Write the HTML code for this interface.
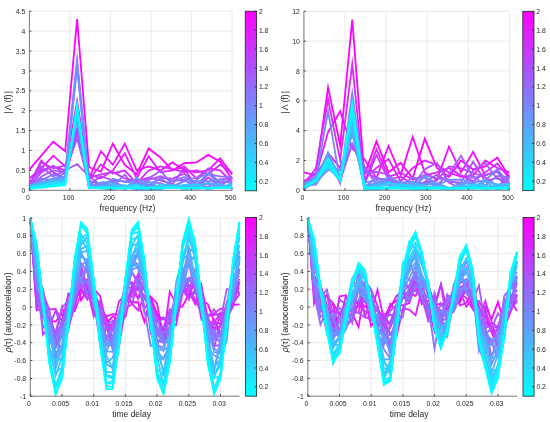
<!DOCTYPE html>
<html><head><meta charset="utf-8"><style>
html,body{margin:0;padding:0;background:#fff;}
svg{display:block;}
polyline{fill:none;stroke-width:1.8;stroke-linejoin:miter;stroke-miterlimit:10;}
.tk{font-family:"Liberation Sans", Helvetica, Arial, sans-serif;font-size:7.90px;fill:#262626;}
.lb{font-family:"Liberation Sans", Helvetica, Arial, sans-serif;font-size:8.50px;fill:#262626;}
.yl{font-family:"Liberation Sans", Helvetica, Arial, sans-serif;font-size:8.7px;fill:#262626;}
</style></head><body>
<svg width="550" height="422" viewBox="0 0 550 422">
<rect width="550" height="422" fill="#fff"/>
<path d="M29.40 190.30V11.20M69.94 190.30V11.20M110.48 190.30V11.20M151.02 190.30V11.20M191.56 190.30V11.20M232.10 190.30V11.20M29.40 190.30H232.10M29.40 170.40H232.10M29.40 150.50H232.10M29.40 130.60H232.10M29.40 110.70H232.10M29.40 90.80H232.10M29.40 70.90H232.10M29.40 51.00H232.10M29.40 31.10H232.10M29.40 11.20H232.10" stroke="#e4e4e4" stroke-width="0.8" fill="none"/>
<polyline points="29.40,169.60 41.32,155.67 53.25,141.74 65.17,151.30 77.09,19.16 89.02,167.22 100.94,171.59 112.86,143.73 124.79,164.83 136.71,174.38 148.64,148.51 160.56,157.66 172.48,170.40 184.41,163.24 196.33,162.44 208.25,154.88 220.18,161.64 232.10,179.16" stroke="#ff00ff"/>
<polyline points="29.40,178.36 41.32,168.41 53.25,155.67 65.17,166.42 77.09,132.59 89.02,178.36 100.94,151.30 112.86,164.83 124.79,143.73 136.71,170.40 148.64,166.42 160.56,170.40 172.48,162.44 184.41,170.40 196.33,172.39 208.25,170.40 220.18,158.46 232.10,174.38" stroke="#f20dff"/>
<polyline points="29.40,182.34 41.32,170.40 53.25,166.42 65.17,170.40 77.09,101.15 89.02,174.38 100.94,178.36 112.86,170.40 124.79,153.29 136.71,178.36 148.64,156.47 160.56,172.39 172.48,170.40 184.41,166.42 196.33,178.36 208.25,168.41 220.18,170.40 232.10,182.34" stroke="#e41bff"/>
<polyline points="29.40,184.33 41.32,160.45 53.25,172.39 65.17,178.36 77.09,130.60 89.02,179.58 100.94,164.53 112.86,173.41 124.79,170.55 136.71,183.29 148.64,170.51 160.56,166.44 172.48,169.05 184.41,172.06 196.33,170.43 208.25,173.75 220.18,164.76 232.10,173.08" stroke="#d728ff"/>
<polyline points="29.40,186.32 41.32,162.44 53.25,168.41 65.17,165.62 77.09,128.61 89.02,178.01 100.94,174.46 112.86,172.08 124.79,178.29 136.71,181.42 148.64,177.36 160.56,180.34 172.48,184.20 184.41,167.94 196.33,188.46 208.25,177.49 220.18,186.69 232.10,176.74" stroke="#c936ff"/>
<polyline points="29.40,187.12 41.32,172.39 53.25,165.62 65.17,174.38 77.09,134.58 89.02,184.67 100.94,176.18 112.86,180.45 124.79,188.16 136.71,183.76 148.64,185.54 160.56,177.76 172.48,178.57 184.41,173.51 196.33,184.05 208.25,187.16 220.18,179.36 232.10,178.13" stroke="#bc43ff"/>
<polyline points="29.40,186.32 41.32,166.42 53.25,176.37 65.17,170.40 77.09,164.03 89.02,176.38 100.94,185.39 112.86,180.68 124.79,181.51 136.71,180.01 148.64,179.92 160.56,176.18 172.48,180.87 184.41,179.74 196.33,188.17 208.25,174.04 220.18,182.12 232.10,181.88" stroke="#ae51ff"/>
<polyline points="29.40,188.31 41.32,176.37 53.25,170.40 65.17,172.39 77.09,138.16 89.02,184.13 100.94,187.07 112.86,186.23 124.79,174.55 136.71,190.15 148.64,178.57 160.56,170.77 172.48,185.15 184.41,186.73 196.33,180.40 208.25,168.86 220.18,185.18 232.10,178.42" stroke="#a15eff"/>
<polyline points="29.40,185.52 41.32,178.36 53.25,180.35 65.17,172.39 77.09,60.15 89.02,180.71 100.94,184.50 112.86,181.34 124.79,187.40 136.71,182.44 148.64,182.31 160.56,183.14 172.48,188.12 184.41,179.83 196.33,177.85 208.25,174.23 220.18,176.38 232.10,177.30" stroke="#946bff"/>
<polyline points="29.40,188.31 41.32,180.35 53.25,174.38 65.17,178.36 77.09,64.93 89.02,184.82 100.94,184.39 112.86,185.24 124.79,186.91 136.71,182.09 148.64,184.39 160.56,188.48 172.48,180.56 184.41,177.09 196.33,183.30 208.25,184.35 220.18,187.84 232.10,187.46" stroke="#8679ff"/>
<polyline points="29.40,187.12 41.32,182.34 53.25,178.36 65.17,176.37 77.09,62.94 89.02,183.07 100.94,187.18 112.86,178.64 124.79,181.83 136.71,183.34 148.64,186.57 160.56,178.28 172.48,186.14 184.41,181.36 196.33,181.16 208.25,181.48 220.18,179.43 232.10,183.84" stroke="#7986ff"/>
<polyline points="29.40,188.31 41.32,184.33 53.25,180.35 65.17,178.36 77.09,66.92 89.02,186.78 100.94,182.50 112.86,181.97 124.79,189.53 136.71,177.75 148.64,186.85 160.56,186.51 172.48,187.29 184.41,188.01 196.33,185.02 208.25,173.13 220.18,186.12 232.10,186.44" stroke="#6b94ff"/>
<polyline points="29.40,185.36 41.32,182.50 53.25,179.63 65.17,178.44 77.09,120.65 89.02,188.11 100.94,185.80 112.86,183.60 124.79,186.31 136.71,189.44 148.64,181.65 160.56,188.35 172.48,186.07 184.41,187.32 196.33,186.31 208.25,183.31 220.18,183.97 232.10,188.33" stroke="#5ea1ff"/>
<polyline points="29.40,185.84 41.32,183.22 53.25,180.59 65.17,179.39 77.09,118.66 89.02,188.09 100.94,187.21 112.86,185.55 124.79,185.24 136.71,189.51 148.64,189.57 160.56,188.30 172.48,186.97 184.41,185.47 196.33,185.46 208.25,182.99 220.18,186.79 232.10,184.50" stroke="#51aeff"/>
<polyline points="29.40,186.32 41.32,183.93 53.25,181.54 65.17,180.35 77.09,114.68 89.02,187.96 100.94,188.09 112.86,189.02 124.79,186.61 136.71,189.13 148.64,189.55 160.56,189.72 172.48,184.82 184.41,187.05 196.33,188.53 208.25,187.64 220.18,187.65 232.10,183.89" stroke="#43bcff"/>
<polyline points="29.40,186.80 41.32,184.65 53.25,182.50 65.17,181.31 77.09,112.69 89.02,188.02 100.94,187.26 112.86,186.08 124.79,186.84 136.71,188.63 148.64,188.49 160.56,184.49 172.48,186.60 184.41,184.82 196.33,184.27 208.25,189.26 220.18,187.15 232.10,187.07" stroke="#36c9ff"/>
<polyline points="29.40,187.28 41.32,185.36 53.25,183.45 65.17,182.26 77.09,110.70 89.02,187.28 100.94,188.23 112.86,189.34 124.79,186.25 136.71,184.77 148.64,188.18 160.56,188.42 172.48,186.96 184.41,188.91 196.33,188.07 208.25,188.15 220.18,187.61 232.10,186.35" stroke="#28d7ff"/>
<polyline points="29.40,187.75 41.32,186.08 53.25,184.41 65.17,183.22 77.09,108.71 89.02,187.20 100.94,187.49 112.86,187.97 124.79,188.70 136.71,186.92 148.64,188.79 160.56,187.45 172.48,186.88 184.41,189.17 196.33,188.14 208.25,188.61 220.18,187.69 232.10,186.60" stroke="#1be4ff"/>
<polyline points="29.40,188.23 41.32,186.80 53.25,185.36 65.17,184.17 77.09,106.72 89.02,187.80 100.94,187.44 112.86,188.43 124.79,188.19 136.71,188.27 148.64,188.65 160.56,187.83 172.48,187.67 184.41,188.23 196.33,187.31 208.25,187.55 220.18,187.60 232.10,187.73" stroke="#0df2ff"/>
<polyline points="29.40,188.71 41.32,187.51 53.25,186.32 65.17,185.13 77.09,104.73 89.02,187.99 100.94,187.81 112.86,187.92 124.79,187.80 136.71,188.18 148.64,187.67 160.56,187.93 172.48,187.81 184.41,187.93 196.33,187.97 208.25,187.84 220.18,187.79 232.10,187.94" stroke="#00ffff"/>
<path d="M29.40 11.20V190.30H232.10" stroke="#707070" stroke-width="0.9" fill="none"/>
<path d="M29.40 190.30v-2M69.94 190.30v-2M110.48 190.30v-2M151.02 190.30v-2M191.56 190.30v-2M232.10 190.30v-2M29.40 190.30h2M29.40 170.40h2M29.40 150.50h2M29.40 130.60h2M29.40 110.70h2M29.40 90.80h2M29.40 70.90h2M29.40 51.00h2M29.40 31.10h2M29.40 11.20h2" stroke="#262626" stroke-width="0.8" fill="none"/>
<text transform="translate(28.00 200.40) scale(0.87 1)" text-anchor="middle" class="tk">0</text>
<text transform="translate(68.54 200.40) scale(0.87 1)" text-anchor="middle" class="tk">100</text>
<text transform="translate(109.08 200.40) scale(0.87 1)" text-anchor="middle" class="tk">200</text>
<text transform="translate(149.62 200.40) scale(0.87 1)" text-anchor="middle" class="tk">300</text>
<text transform="translate(190.16 200.40) scale(0.87 1)" text-anchor="middle" class="tk">400</text>
<text transform="translate(230.70 200.40) scale(0.87 1)" text-anchor="middle" class="tk">500</text>
<text transform="translate(25.30 192.90) scale(0.87 1)" text-anchor="end" class="tk">0</text>
<text transform="translate(25.30 173.00) scale(0.87 1)" text-anchor="end" class="tk">0.5</text>
<text transform="translate(25.30 153.10) scale(0.87 1)" text-anchor="end" class="tk">1</text>
<text transform="translate(25.30 133.20) scale(0.87 1)" text-anchor="end" class="tk">1.5</text>
<text transform="translate(25.30 113.30) scale(0.87 1)" text-anchor="end" class="tk">2</text>
<text transform="translate(25.30 93.40) scale(0.87 1)" text-anchor="end" class="tk">2.5</text>
<text transform="translate(25.30 73.50) scale(0.87 1)" text-anchor="end" class="tk">3</text>
<text transform="translate(25.30 53.60) scale(0.87 1)" text-anchor="end" class="tk">3.5</text>
<text transform="translate(25.30 33.70) scale(0.87 1)" text-anchor="end" class="tk">4</text>
<text transform="translate(25.30 13.80) scale(0.87 1)" text-anchor="end" class="tk">4.5</text>
<text x="127.45" y="210.80" text-anchor="middle" class="lb">frequency (Hz)</text>
<text transform="translate(11.00 102.20) rotate(-90)" text-anchor="middle" class="yl">|<tspan dx="1">&#923;</tspan> (f)<tspan dx="1.2">|</tspan></text>
<defs><linearGradient id="g41" x1="0" y1="1" x2="0" y2="0"><stop offset="0" stop-color="#00ffff"/><stop offset="1" stop-color="#ff00ff"/></linearGradient></defs>
<rect x="245.20" y="11.20" width="11.40" height="179.60" fill="url(#g41)" stroke="#262626" stroke-width="0.8"/>
<text transform="translate(258.90 183.95) scale(0.87 1)" class="tk">0.2</text>
<text transform="translate(258.90 165.04) scale(0.87 1)" class="tk">0.4</text>
<text transform="translate(258.90 146.14) scale(0.87 1)" class="tk">0.6</text>
<text transform="translate(258.90 127.23) scale(0.87 1)" class="tk">0.8</text>
<text transform="translate(258.90 108.33) scale(0.87 1)" class="tk">1</text>
<text transform="translate(258.90 89.42) scale(0.87 1)" class="tk">1.2</text>
<text transform="translate(258.90 70.52) scale(0.87 1)" class="tk">1.4</text>
<text transform="translate(258.90 51.61) scale(0.87 1)" class="tk">1.6</text>
<text transform="translate(258.90 32.71) scale(0.87 1)" class="tk">1.8</text>
<text transform="translate(258.90 13.80) scale(0.87 1)" class="tk">2</text>
<path d="M256.60 181.35h-2M256.60 162.44h-2M256.60 143.54h-2M256.60 124.63h-2M256.60 105.73h-2M256.60 86.82h-2M256.60 67.92h-2M256.60 49.01h-2M256.60 30.11h-2M256.60 11.20h-2" stroke="#262626" stroke-width="0.8" fill="none"/>
<path d="M303.90 190.30V11.30M345.00 190.30V11.30M386.10 190.30V11.30M427.20 190.30V11.30M468.30 190.30V11.30M509.40 190.30V11.30M303.90 190.30H509.40M303.90 160.47H509.40M303.90 130.63H509.40M303.90 100.80H509.40M303.90 70.97H509.40M303.90 41.13H509.40M303.90 11.30H509.40" stroke="#e4e4e4" stroke-width="0.8" fill="none"/>
<polyline points="303.90,181.35 315.99,172.40 328.08,87.38 340.16,145.55 352.25,19.65 364.34,175.38 376.43,141.37 388.52,172.40 400.61,162.70 412.69,178.37 424.78,138.69 436.87,167.93 448.96,176.88 461.05,160.47 473.14,169.42 485.22,166.43 497.31,157.48 509.40,176.88" stroke="#ff00ff"/>
<polyline points="303.90,172.40 315.99,175.38 328.08,132.12 340.16,111.24 352.25,148.53 364.34,159.12 376.43,178.37 388.52,145.85 400.61,175.38 412.69,136.90 424.78,172.40 436.87,179.86 448.96,146.74 461.05,172.40 473.14,151.96 485.22,175.38 497.31,170.91 509.40,182.84" stroke="#f20dff"/>
<polyline points="303.90,185.83 315.99,178.37 328.08,153.01 340.16,167.93 352.25,130.63 364.34,178.37 376.43,167.93 388.52,159.12 400.61,181.35 412.69,167.93 424.78,160.47 436.87,164.94 448.96,172.40 461.05,176.88 473.14,175.38 485.22,160.47 497.31,167.93 509.40,172.40" stroke="#e41bff"/>
<polyline points="303.90,184.33 315.99,167.93 328.08,99.31 340.16,160.47 352.25,64.11 364.34,182.84 376.43,149.28 388.52,176.88 400.61,172.40 412.69,179.86 424.78,175.38 436.87,172.40 448.96,167.93 461.05,175.38 473.14,181.35 485.22,172.40 497.31,163.45 509.40,178.37" stroke="#d728ff"/>
<polyline points="303.90,182.02 315.99,177.82 328.08,158.87 340.16,183.07 352.25,128.70 364.34,184.64 376.43,155.09 388.52,179.57 400.61,176.64 412.69,183.58 424.78,182.70 436.87,180.72 448.96,166.44 461.05,168.48 473.14,173.00 485.22,177.22 497.31,186.58 509.40,176.47" stroke="#c936ff"/>
<polyline points="303.90,182.89 315.99,172.96 328.08,160.53 340.16,179.61 352.25,118.80 364.34,170.56 376.43,178.81 388.52,179.15 400.61,184.64 412.69,186.96 424.78,181.78 436.87,174.73 448.96,182.13 461.05,182.43 473.14,161.82 485.22,181.58 497.31,177.67 509.40,186.40" stroke="#bc43ff"/>
<polyline points="303.90,185.16 315.99,175.15 328.08,154.87 340.16,176.58 352.25,144.06 364.34,172.68 376.43,171.84 388.52,174.33 400.61,186.12 412.69,185.56 424.78,169.16 436.87,162.94 448.96,182.77 461.05,188.20 473.14,170.67 485.22,162.91 497.31,178.95 509.40,179.41" stroke="#ae51ff"/>
<polyline points="303.90,185.72 315.99,183.69 328.08,161.41 340.16,180.73 352.25,144.21 364.34,165.94 376.43,185.29 388.52,183.59 400.61,181.91 412.69,187.34 424.78,176.58 436.87,185.24 448.96,173.93 461.05,155.65 473.14,178.04 485.22,174.80 497.31,171.97 509.40,186.89" stroke="#a15eff"/>
<polyline points="303.90,187.08 315.99,177.24 328.08,167.03 340.16,177.42 352.25,125.23 364.34,187.50 376.43,177.25 388.52,181.87 400.61,185.04 412.69,183.31 424.78,174.78 436.87,178.38 448.96,179.61 461.05,184.93 473.14,176.34 485.22,185.58 497.31,176.03 509.40,177.08" stroke="#946bff"/>
<polyline points="303.90,186.34 315.99,181.53 328.08,170.07 340.16,170.38 352.25,129.16 364.34,186.49 376.43,183.15 388.52,180.08 400.61,185.49 412.69,177.92 424.78,177.85 436.87,188.40 448.96,188.83 461.05,184.50 473.14,189.09 485.22,180.48 497.31,169.10 509.40,184.76" stroke="#8679ff"/>
<polyline points="303.90,186.82 315.99,178.49 328.08,111.24 340.16,181.41 352.25,92.89 364.34,182.52 376.43,180.51 388.52,185.30 400.61,182.55 412.69,181.70 424.78,183.29 436.87,185.36 448.96,179.96 461.05,179.51 473.14,182.63 485.22,180.29 497.31,184.72 509.40,185.43" stroke="#7986ff"/>
<polyline points="303.90,185.76 315.99,184.62 328.08,166.61 340.16,179.18 352.25,133.32 364.34,186.02 376.43,183.18 388.52,177.44 400.61,182.01 412.69,188.50 424.78,176.44 436.87,183.83 448.96,189.32 461.05,182.74 473.14,183.36 485.22,187.65 497.31,186.91 509.40,182.89" stroke="#6b94ff"/>
<polyline points="303.90,189.24 315.99,175.33 328.08,162.30 340.16,178.37 352.25,132.12 364.34,186.95 376.43,185.43 388.52,189.17 400.61,184.34 412.69,187.52 424.78,184.57 436.87,183.08 448.96,187.79 461.05,187.59 473.14,187.72 485.22,181.25 497.31,189.39 509.40,186.32" stroke="#5ea1ff"/>
<polyline points="303.90,189.64 315.99,180.86 328.08,152.35 340.16,178.04 352.25,127.65 364.34,186.50 376.43,184.69 388.52,181.89 400.61,188.50 412.69,183.00 424.78,186.47 436.87,187.94 448.96,188.76 461.05,185.79 473.14,186.89 485.22,180.66 497.31,184.73 509.40,184.28" stroke="#51aeff"/>
<polyline points="303.90,183.49 315.99,179.32 328.08,167.66 340.16,180.43 352.25,123.18 364.34,189.28 376.43,184.84 388.52,185.50 400.61,188.30 412.69,185.44 424.78,185.94 436.87,187.64 448.96,188.43 461.05,188.49 473.14,185.78 485.22,187.17 497.31,184.69 509.40,184.05" stroke="#43bcff"/>
<polyline points="303.90,186.68 315.99,180.03 328.08,163.82 340.16,180.00 352.25,118.70 364.34,186.26 376.43,187.40 388.52,182.85 400.61,184.63 412.69,186.07 424.78,187.52 436.87,186.43 448.96,187.89 461.05,185.53 473.14,184.70 485.22,185.29 497.31,188.81 509.40,187.33" stroke="#36c9ff"/>
<polyline points="303.90,186.15 315.99,181.48 328.08,161.74 340.16,180.88 352.25,114.23 364.34,188.50 376.43,189.53 388.52,187.84 400.61,184.55 412.69,186.76 424.78,187.14 436.87,187.48 448.96,188.53 461.05,188.43 473.14,188.20 485.22,189.06 497.31,188.40 509.40,184.42" stroke="#28d7ff"/>
<polyline points="303.90,187.26 315.99,180.49 328.08,161.34 340.16,179.86 352.25,109.75 364.34,189.93 376.43,188.66 388.52,187.28 400.61,187.20 412.69,189.01 424.78,189.12 436.87,188.44 448.96,188.11 461.05,188.48 473.14,186.77 485.22,188.23 497.31,187.15 509.40,188.70" stroke="#1be4ff"/>
<polyline points="303.90,187.76 315.99,180.35 328.08,165.25 340.16,180.05 352.25,106.77 364.34,187.60 376.43,188.33 388.52,188.20 400.61,188.30 412.69,188.75 424.78,188.16 436.87,187.22 448.96,188.44 461.05,188.04 473.14,188.44 485.22,187.89 497.31,187.86 509.40,187.98" stroke="#0df2ff"/>
<polyline points="303.90,187.06 315.99,181.02 328.08,158.30 340.16,179.85 352.25,103.78 364.34,187.95 376.43,188.10 388.52,188.47 400.61,188.61 412.69,188.36 424.78,188.38 436.87,188.59 448.96,188.55 461.05,188.35 473.14,188.35 485.22,188.61 497.31,188.59 509.40,188.90" stroke="#00ffff"/>
<path d="M303.90 11.30V190.30H509.40" stroke="#707070" stroke-width="0.9" fill="none"/>
<path d="M303.90 190.30v-2M345.00 190.30v-2M386.10 190.30v-2M427.20 190.30v-2M468.30 190.30v-2M509.40 190.30v-2M303.90 190.30h2M303.90 160.47h2M303.90 130.63h2M303.90 100.80h2M303.90 70.97h2M303.90 41.13h2M303.90 11.30h2" stroke="#262626" stroke-width="0.8" fill="none"/>
<text transform="translate(302.50 200.40) scale(0.87 1)" text-anchor="middle" class="tk">0</text>
<text transform="translate(343.60 200.40) scale(0.87 1)" text-anchor="middle" class="tk">100</text>
<text transform="translate(384.70 200.40) scale(0.87 1)" text-anchor="middle" class="tk">200</text>
<text transform="translate(425.80 200.40) scale(0.87 1)" text-anchor="middle" class="tk">300</text>
<text transform="translate(466.90 200.40) scale(0.87 1)" text-anchor="middle" class="tk">400</text>
<text transform="translate(508.00 200.40) scale(0.87 1)" text-anchor="middle" class="tk">500</text>
<text transform="translate(299.80 192.90) scale(0.87 1)" text-anchor="end" class="tk">0</text>
<text transform="translate(299.80 163.07) scale(0.87 1)" text-anchor="end" class="tk">2</text>
<text transform="translate(299.80 133.23) scale(0.87 1)" text-anchor="end" class="tk">4</text>
<text transform="translate(299.80 103.40) scale(0.87 1)" text-anchor="end" class="tk">6</text>
<text transform="translate(299.80 73.57) scale(0.87 1)" text-anchor="end" class="tk">8</text>
<text transform="translate(299.80 43.73) scale(0.87 1)" text-anchor="end" class="tk">10</text>
<text transform="translate(299.80 13.90) scale(0.87 1)" text-anchor="end" class="tk">12</text>
<text x="403.35" y="210.80" text-anchor="middle" class="lb">frequency (Hz)</text>
<text transform="translate(287.50 102.20) rotate(-90)" text-anchor="middle" class="yl">|<tspan dx="1">&#923;</tspan> (f)<tspan dx="1.2">|</tspan></text>
<defs><linearGradient id="g92" x1="0" y1="1" x2="0" y2="0"><stop offset="0" stop-color="#00ffff"/><stop offset="1" stop-color="#ff00ff"/></linearGradient></defs>
<rect x="522.80" y="11.30" width="11.20" height="179.30" fill="url(#g92)" stroke="#262626" stroke-width="0.8"/>
<text transform="translate(536.30 183.76) scale(0.87 1)" class="tk">0.2</text>
<text transform="translate(536.30 164.89) scale(0.87 1)" class="tk">0.4</text>
<text transform="translate(536.30 146.02) scale(0.87 1)" class="tk">0.6</text>
<text transform="translate(536.30 127.14) scale(0.87 1)" class="tk">0.8</text>
<text transform="translate(536.30 108.27) scale(0.87 1)" class="tk">1</text>
<text transform="translate(536.30 89.39) scale(0.87 1)" class="tk">1.2</text>
<text transform="translate(536.30 70.52) scale(0.87 1)" class="tk">1.4</text>
<text transform="translate(536.30 51.65) scale(0.87 1)" class="tk">1.6</text>
<text transform="translate(536.30 32.77) scale(0.87 1)" class="tk">1.8</text>
<text transform="translate(536.30 13.90) scale(0.87 1)" class="tk">2</text>
<path d="M534.00 181.16h-2M534.00 162.29h-2M534.00 143.42h-2M534.00 124.54h-2M534.00 105.67h-2M534.00 86.79h-2M534.00 67.92h-2M534.00 49.05h-2M534.00 30.17h-2M534.00 11.30h-2" stroke="#262626" stroke-width="0.8" fill="none"/>
<path d="M30.30 396.20V218.00M62.00 396.20V218.00M93.69 396.20V218.00M125.39 396.20V218.00M157.09 396.20V218.00M188.78 396.20V218.00M220.48 396.20V218.00M30.30 396.20H239.50M30.30 378.38H239.50M30.30 360.56H239.50M30.30 342.74H239.50M30.30 324.92H239.50M30.30 307.10H239.50M30.30 289.28H239.50M30.30 271.46H239.50M30.30 253.64H239.50M30.30 235.82H239.50M30.30 218.00H239.50" stroke="#e4e4e4" stroke-width="0.8" fill="none"/>
<polyline points="30.30,218.00 36.64,310.08 42.98,309.14 49.32,320.88 55.66,321.62 62.00,314.02 68.34,329.55 74.68,267.22 81.02,300.18 87.35,289.59 93.69,293.52 100.03,304.58 106.37,318.39 112.71,349.66 119.05,323.85 125.39,294.27 131.73,302.24 138.07,302.17 144.41,321.73 150.75,297.42 157.09,314.01 163.43,330.76 169.77,317.79 176.11,306.74 182.45,306.60 188.78,294.11 195.12,293.05 201.46,300.35 207.80,304.04 214.14,321.78 220.48,323.85 226.82,305.73 233.16,304.87 239.50,304.40" stroke="#ff00ff"/>
<polyline points="30.30,218.00 36.64,297.87 42.98,308.13 49.32,318.23 55.66,333.43 62.00,332.28 68.34,293.79 74.68,301.58 81.02,289.69 87.35,299.57 93.69,288.44 100.03,295.84 106.37,323.63 112.71,316.32 119.05,320.77 125.39,283.79 131.73,282.93 138.07,298.98 144.41,285.25 150.75,305.81 157.09,315.37 163.43,318.90 169.77,323.35 176.11,310.69 182.45,288.35 188.78,290.64 195.12,303.98 201.46,285.17 207.80,318.82 214.14,328.06 220.48,326.46 226.82,302.58 233.16,288.02 239.50,288.25" stroke="#f609ff"/>
<polyline points="30.30,218.00 36.64,294.20 42.98,311.20 49.32,311.77 55.66,338.72 62.00,350.74 68.34,316.43 74.68,308.15 81.02,272.54 87.35,290.11 93.69,311.05 100.03,325.42 106.37,317.50 112.71,330.74 119.05,319.61 125.39,302.10 131.73,290.56 138.07,288.88 144.41,296.12 150.75,296.69 157.09,303.36 163.43,339.92 169.77,291.67 176.11,304.04 182.45,281.49 188.78,296.60 195.12,290.63 201.46,303.16 207.80,316.18 214.14,314.90 220.48,313.95 226.82,319.60 233.16,298.34 239.50,282.47" stroke="#ed12ff"/>
<polyline points="30.30,218.00 36.64,293.56 42.98,313.55 49.32,328.90 55.66,335.56 62.00,307.20 68.34,328.63 74.68,305.85 81.02,283.13 87.35,279.41 93.69,302.96 100.03,306.99 106.37,316.41 112.71,314.15 119.05,314.37 125.39,284.96 131.73,289.02 138.07,274.04 144.41,308.18 150.75,300.91 157.09,334.14 163.43,339.86 169.77,313.44 176.11,313.95 182.45,289.09 188.78,299.31 195.12,277.47 201.46,305.51 207.80,329.61 214.14,322.98 220.48,312.57 226.82,317.76 233.16,291.75 239.50,268.59" stroke="#e51aff"/>
<polyline points="30.30,218.00 36.64,302.65 42.98,298.59 49.32,331.77 55.66,335.87 62.00,322.77 68.34,305.14 74.68,311.16 81.02,293.81 87.35,288.86 93.69,298.85 100.03,323.69 106.37,324.04 112.71,327.69 119.05,301.26 125.39,295.58 131.73,303.46 138.07,310.46 144.41,295.78 150.75,298.89 157.09,320.95 163.43,317.39 169.77,324.23 176.11,319.53 182.45,285.57 188.78,286.84 195.12,286.22 201.46,319.71 207.80,317.57 214.14,332.47 220.48,314.62 226.82,316.52 233.16,302.85 239.50,294.30" stroke="#dc23ff"/>
<polyline points="30.30,218.00 36.64,291.67 42.98,317.20 49.32,309.46 55.66,309.00 62.00,321.38 68.34,294.47 74.68,290.53 81.02,265.56 87.35,288.18 93.69,316.51 100.03,300.88 106.37,327.38 112.71,336.49 119.05,322.38 125.39,317.07 131.73,290.86 138.07,298.02 144.41,281.27 150.75,304.28 157.09,340.28 163.43,342.51 169.77,325.82 176.11,325.10 182.45,293.29 188.78,287.08 195.12,299.93 201.46,311.29 207.80,315.14 214.14,313.15 220.48,308.67 226.82,310.59 233.16,287.57 239.50,294.69" stroke="#d32cff"/>
<polyline points="30.30,218.00 36.64,308.28 42.98,292.85 49.32,309.99 55.66,344.11 62.00,322.62 68.34,310.92 74.68,289.99 81.02,283.95 87.35,293.08 93.69,298.43 100.03,314.78 106.37,327.80 112.71,345.88 119.05,346.38 125.39,308.30 131.73,304.44 138.07,283.51 144.41,288.27 150.75,308.54 157.09,328.39 163.43,327.96 169.77,309.26 176.11,313.04 182.45,282.01 188.78,278.27 195.12,288.63 201.46,291.18 207.80,328.15 214.14,319.22 220.48,334.00 226.82,318.86 233.16,306.07 239.50,281.57" stroke="#ca35ff"/>
<polyline points="30.30,218.00 36.64,306.12 42.98,310.75 49.32,336.83 55.66,333.68 62.00,331.21 68.34,310.11 74.68,278.82 81.02,281.85 87.35,280.23 93.69,300.46 100.03,319.40 106.37,336.97 112.71,346.66 119.05,316.26 125.39,283.62 131.73,282.05 138.07,290.04 144.41,278.17 150.75,315.77 157.09,332.02 163.43,342.21 169.77,331.49 176.11,308.12 182.45,270.20 188.78,286.03 195.12,300.57 201.46,311.71 207.80,324.08 214.14,347.21 220.48,324.55 226.82,304.41 233.16,291.49 239.50,278.67" stroke="#c13eff"/>
<polyline points="30.30,218.00 36.64,271.37 42.98,334.59 49.32,326.46 55.66,310.63 62.00,328.62 68.34,309.40 74.68,305.69 81.02,269.62 87.35,298.43 93.69,296.93 100.03,316.25 106.37,340.54 112.71,321.14 119.05,331.77 125.39,306.32 131.73,285.78 138.07,287.35 144.41,289.21 150.75,302.47 157.09,329.99 163.43,336.98 169.77,327.99 176.11,309.21 182.45,281.02 188.78,284.62 195.12,285.05 201.46,306.46 207.80,331.27 214.14,322.91 220.48,337.44 226.82,311.66 233.16,279.00 239.50,294.16" stroke="#b946ff"/>
<polyline points="30.30,218.00 36.64,270.70 42.98,310.99 49.32,323.10 55.66,347.53 62.00,330.38 68.34,303.16 74.68,293.87 81.02,287.30 87.35,298.10 93.69,295.29 100.03,310.34 106.37,325.60 112.71,329.01 119.05,331.03 125.39,281.37 131.73,284.61 138.07,283.07 144.41,285.68 150.75,333.63 157.09,329.03 163.43,334.57 169.77,320.15 176.11,291.99 182.45,283.21 188.78,299.09 195.12,291.31 201.46,303.40 207.80,322.40 214.14,346.00 220.48,345.00 226.82,306.55 233.16,289.57 239.50,281.83" stroke="#b04fff"/>
<polyline points="30.30,218.00 36.64,290.99 42.98,300.89 49.32,338.91 55.66,346.12 62.00,331.41 68.34,320.67 74.68,299.01 81.02,280.59 87.35,283.84 93.69,300.63 100.03,302.50 106.37,323.17 112.71,321.00 119.05,319.35 125.39,303.44 131.73,296.93 138.07,283.34 144.41,312.79 150.75,318.17 157.09,322.24 163.43,318.85 169.77,315.41 176.11,313.91 182.45,281.71 188.78,286.85 195.12,278.43 201.46,306.44 207.80,316.48 214.14,309.39 220.48,320.66 226.82,289.16 233.16,290.28 239.50,283.16" stroke="#a758ff"/>
<polyline points="30.30,218.00 36.64,273.40 42.98,288.92 49.32,322.91 55.66,332.06 62.00,307.55 68.34,300.55 74.68,299.87 81.02,278.15 87.35,282.31 93.69,299.30 100.03,343.28 106.37,327.57 112.71,341.35 119.05,318.28 125.39,299.16 131.73,272.14 138.07,280.91 144.41,298.86 150.75,307.47 157.09,317.53 163.43,340.09 169.77,312.72 176.11,302.62 182.45,290.45 188.78,261.96 195.12,293.28 201.46,295.19 207.80,331.19 214.14,332.47 220.48,343.62 226.82,321.01 233.16,280.46 239.50,276.12" stroke="#9e61ff"/>
<polyline points="30.30,218.00 36.64,290.89 42.98,326.40 49.32,331.79 55.66,335.34 62.00,322.85 68.34,302.55 74.68,297.54 81.02,283.70 87.35,266.47 93.69,307.86 100.03,310.12 106.37,339.25 112.71,329.52 119.05,313.88 125.39,289.54 131.73,270.85 138.07,285.62 144.41,286.94 150.75,312.99 157.09,330.12 163.43,326.95 169.77,330.28 176.11,312.06 182.45,290.77 188.78,277.96 195.12,276.26 201.46,313.07 207.80,316.25 214.14,336.19 220.48,335.36 226.82,326.19 233.16,287.45 239.50,269.14" stroke="#956aff"/>
<polyline points="30.30,218.00 36.64,269.70 42.98,304.15 49.32,332.87 55.66,342.69 62.00,326.32 68.34,321.93 74.68,292.25 81.02,278.35 87.35,293.48 93.69,283.84 100.03,316.18 106.37,339.39 112.71,327.91 119.05,331.06 125.39,297.15 131.73,260.15 138.07,264.19 144.41,310.17 150.75,345.85 157.09,345.07 163.43,331.05 169.77,333.67 176.11,307.04 182.45,276.05 188.78,281.17 195.12,279.88 201.46,297.26 207.80,324.57 214.14,337.50 220.48,340.85 226.82,308.58 233.16,292.75 239.50,261.04" stroke="#8d72ff"/>
<polyline points="30.30,218.00 36.64,280.19 42.98,302.19 49.32,312.36 55.66,347.70 62.00,336.70 68.34,315.94 74.68,280.85 81.02,282.51 87.35,281.27 93.69,296.04 100.03,317.65 106.37,341.96 112.71,346.29 119.05,331.13 125.39,290.78 131.73,260.91 138.07,268.16 144.41,285.47 150.75,309.80 157.09,346.04 163.43,346.80 169.77,333.25 176.11,301.96 182.45,280.42 188.78,281.68 195.12,269.38 201.46,288.64 207.80,333.21 214.14,340.02 220.48,334.50 226.82,306.55 233.16,301.37 239.50,255.86" stroke="#847bff"/>
<polyline points="30.30,218.00 36.64,280.13 42.98,303.31 49.32,344.10 55.66,338.53 62.00,329.40 68.34,327.49 74.68,298.95 81.02,262.98 87.35,272.56 93.69,306.13 100.03,326.78 106.37,345.06 112.71,345.39 119.05,316.30 125.39,291.23 131.73,255.75 138.07,255.77 144.41,279.47 150.75,304.49 157.09,326.89 163.43,339.94 169.77,343.88 176.11,296.58 182.45,277.45 188.78,252.24 195.12,277.25 201.46,299.69 207.80,329.36 214.14,330.83 220.48,337.60 226.82,317.06 233.16,282.92 239.50,272.71" stroke="#7b84ff"/>
<polyline points="30.30,218.00 36.64,287.56 42.98,298.58 49.32,338.01 55.66,356.69 62.00,345.68 68.34,310.87 74.68,284.71 81.02,266.01 87.35,260.10 93.69,300.42 100.03,329.57 106.37,351.54 112.71,336.17 119.05,316.27 125.39,282.21 131.73,269.99 138.07,267.17 144.41,276.47 150.75,318.68 157.09,334.09 163.43,342.88 169.77,340.66 176.11,305.18 182.45,277.06 188.78,248.65 195.12,252.46 201.46,305.33 207.80,334.19 214.14,370.19 220.48,339.72 226.82,315.16 233.16,293.97 239.50,258.61" stroke="#728dff"/>
<polyline points="30.30,218.00 36.64,263.52 42.98,299.45 49.32,329.54 55.66,359.45 62.00,331.05 68.34,313.67 74.68,264.76 81.02,280.59 87.35,260.71 93.69,284.31 100.03,329.64 106.37,345.78 112.71,343.18 119.05,321.56 125.39,297.66 131.73,268.15 138.07,253.73 144.41,271.31 150.75,314.83 157.09,343.53 163.43,350.85 169.77,327.23 176.11,313.47 182.45,285.32 188.78,260.14 195.12,283.37 201.46,309.37 207.80,335.58 214.14,348.38 220.48,353.62 226.82,308.66 233.16,298.08 239.50,257.89" stroke="#6a95ff"/>
<polyline points="30.30,218.00 36.64,264.86 42.98,309.39 49.32,323.93 55.66,352.55 62.00,347.94 68.34,320.68 74.68,282.75 81.02,252.17 87.35,266.18 93.69,282.83 100.03,323.21 106.37,341.62 112.71,346.09 119.05,328.61 125.39,307.89 131.73,261.42 138.07,252.76 144.41,279.33 150.75,311.67 157.09,350.92 163.43,359.18 169.77,346.41 176.11,292.58 182.45,269.85 188.78,261.96 195.12,282.35 201.46,305.29 207.80,326.41 214.14,352.11 220.48,353.04 226.82,304.34 233.16,268.72 239.50,251.15" stroke="#619eff"/>
<polyline points="30.30,218.00 36.64,273.68 42.98,313.13 49.32,328.56 55.66,368.10 62.00,348.29 68.34,305.53 74.68,277.85 81.02,256.50 87.35,259.93 93.69,284.11 100.03,336.01 106.37,351.45 112.71,351.71 119.05,311.15 125.39,293.42 131.73,267.99 138.07,250.04 144.41,281.90 150.75,314.72 157.09,348.85 163.43,350.33 169.77,346.02 176.11,304.51 182.45,288.75 188.78,261.25 195.12,256.37 201.46,309.18 207.80,346.37 214.14,369.23 220.48,345.30 226.82,315.60 233.16,288.15 239.50,250.58" stroke="#58a7ff"/>
<polyline points="30.30,218.00 36.64,259.41 42.98,307.02 49.32,336.38 55.66,352.14 62.00,352.75 68.34,326.04 74.68,286.28 81.02,252.35 87.35,250.91 93.69,287.59 100.03,327.22 106.37,363.10 112.71,357.63 119.05,334.72 125.39,291.97 131.73,266.90 138.07,263.73 144.41,280.25 150.75,325.88 157.09,360.05 163.43,358.44 169.77,344.05 176.11,282.09 182.45,258.93 188.78,255.04 195.12,260.02 201.46,300.91 207.80,348.30 214.14,355.26 220.48,358.70 226.82,340.24 233.16,270.86 239.50,256.70" stroke="#4fb0ff"/>
<polyline points="30.30,218.00 36.64,254.22 42.98,301.71 49.32,348.19 55.66,362.52 62.00,343.47 68.34,319.89 74.68,275.19 81.02,249.21 87.35,245.69 93.69,300.66 100.03,330.50 106.37,355.56 112.71,369.01 119.05,322.97 125.39,284.75 131.73,257.58 138.07,246.92 144.41,284.86 150.75,322.27 157.09,343.97 163.43,373.33 169.77,333.43 176.11,303.83 182.45,256.17 188.78,246.09 195.12,277.87 201.46,307.13 207.80,344.53 214.14,375.06 220.48,365.26 226.82,316.02 233.16,278.92 239.50,259.66" stroke="#46b9ff"/>
<polyline points="30.30,218.00 36.64,263.77 42.98,303.51 49.32,351.79 55.66,361.02 62.00,358.30 68.34,325.27 74.68,277.06 81.02,244.65 87.35,236.61 93.69,288.13 100.03,333.94 106.37,364.31 112.71,367.61 119.05,321.11 125.39,290.24 131.73,245.86 138.07,243.36 144.41,268.66 150.75,326.26 157.09,349.01 163.43,372.14 169.77,348.22 176.11,308.60 182.45,264.19 188.78,238.91 195.12,253.97 201.46,298.54 207.80,341.22 214.14,367.16 220.48,359.37 226.82,314.26 233.16,268.83 239.50,244.91" stroke="#3ec1ff"/>
<polyline points="30.30,218.00 36.64,252.92 42.98,311.78 49.32,347.72 55.66,375.60 62.00,357.12 68.34,320.37 74.68,274.36 81.02,238.46 87.35,249.53 93.69,286.71 100.03,336.25 106.37,371.92 112.71,372.20 119.05,340.74 125.39,286.76 131.73,257.62 138.07,241.10 144.41,276.29 150.75,314.28 157.09,356.39 163.43,385.54 169.77,350.32 176.11,303.42 182.45,262.19 188.78,235.40 195.12,259.19 201.46,311.83 207.80,352.43 214.14,376.29 220.48,362.36 226.82,326.34 233.16,266.98 239.50,236.52" stroke="#35caff"/>
<polyline points="30.30,218.00 36.64,249.25 42.98,298.11 49.32,353.02 55.66,372.78 62.00,367.41 68.34,321.39 74.68,264.56 81.02,238.66 87.35,233.92 93.69,280.21 100.03,329.00 106.37,375.15 112.71,376.66 119.05,337.50 125.39,281.41 131.73,245.56 138.07,234.72 144.41,268.02 150.75,313.95 157.09,369.02 163.43,375.16 169.77,356.40 176.11,306.58 182.45,256.84 188.78,239.07 195.12,253.22 201.46,298.15 207.80,352.98 214.14,376.95 220.48,359.31 226.82,319.65 233.16,267.12 239.50,237.49" stroke="#2cd3ff"/>
<polyline points="30.30,218.00 36.64,252.47 42.98,300.66 49.32,358.49 55.66,386.56 62.00,367.79 68.34,313.39 74.68,266.66 81.02,234.37 87.35,243.50 93.69,287.72 100.03,338.15 106.37,375.87 112.71,378.65 119.05,338.78 125.39,282.93 131.73,239.18 138.07,237.57 144.41,267.36 150.75,321.16 157.09,371.97 163.43,385.06 169.77,358.88 176.11,303.37 182.45,248.16 188.78,231.45 195.12,251.49 201.46,299.58 207.80,354.04 214.14,377.88 220.48,376.29 226.82,318.70 233.16,267.44 239.50,232.09" stroke="#23dcff"/>
<polyline points="30.30,218.00 36.64,246.40 42.98,303.94 49.32,358.15 55.66,387.32 62.00,371.00 68.34,321.67 74.68,257.82 81.02,225.46 87.35,232.90 93.69,287.07 100.03,342.23 106.37,383.49 112.71,380.76 119.05,346.86 125.39,279.39 131.73,233.93 138.07,232.15 144.41,266.25 150.75,324.12 157.09,372.20 163.43,385.53 169.77,353.58 176.11,302.51 182.45,246.52 188.78,226.13 195.12,244.14 201.46,300.27 207.80,355.20 214.14,389.63 220.48,372.76 226.82,324.15 233.16,260.32 239.50,227.47" stroke="#1ae5ff"/>
<polyline points="30.30,218.00 36.64,246.83 42.98,301.34 49.32,361.42 55.66,387.72 62.00,376.68 68.34,322.24 74.68,263.85 81.02,223.82 87.35,233.75 93.69,281.80 100.03,345.41 106.37,382.36 112.71,383.79 119.05,341.59 125.39,279.47 131.73,233.18 138.07,226.98 144.41,263.47 150.75,324.03 157.09,372.73 163.43,392.43 169.77,361.40 176.11,302.34 182.45,245.71 188.78,222.47 195.12,247.99 201.46,304.51 207.80,360.48 214.14,388.30 220.48,373.67 226.82,322.46 233.16,262.72 239.50,225.54" stroke="#12edff"/>
<polyline points="30.30,218.00 36.64,243.66 42.98,304.04 49.32,361.24 55.66,393.48 62.00,378.28 68.34,323.03 74.68,260.29 81.02,223.92 87.35,232.40 93.69,280.42 100.03,343.87 106.37,386.14 112.71,386.68 119.05,343.67 125.39,279.52 131.73,231.68 138.07,224.32 144.41,260.39 150.75,322.78 157.09,377.07 163.43,393.34 169.77,361.90 176.11,303.76 182.45,243.64 188.78,220.43 195.12,245.58 201.46,301.63 207.80,362.89 214.14,392.05 220.48,378.58 226.82,324.03 233.16,260.29 239.50,222.58" stroke="#09f6ff"/>
<polyline points="30.30,218.00 36.64,243.72 42.98,301.44 49.32,363.40 55.66,394.59 62.00,378.40 68.34,324.23 74.68,260.00 81.02,222.09 87.35,228.90 93.69,279.82 100.03,344.70 106.37,389.05 112.71,389.17 119.05,344.92 125.39,280.02 131.73,229.80 138.07,221.90 144.41,259.62 150.75,323.66 157.09,378.32 163.43,393.96 169.77,363.05 176.11,301.73 182.45,242.98 188.78,218.89 195.12,242.31 201.46,301.66 207.80,363.30 214.14,394.13 220.48,378.61 226.82,323.69 233.16,259.65 239.50,221.64" stroke="#00ffff"/>
<path d="M30.30 218.00V396.20H239.50" stroke="#707070" stroke-width="0.9" fill="none"/>
<path d="M30.30 396.20v-2M62.00 396.20v-2M93.69 396.20v-2M125.39 396.20v-2M157.09 396.20v-2M188.78 396.20v-2M220.48 396.20v-2M30.30 396.20h2M30.30 378.38h2M30.30 360.56h2M30.30 342.74h2M30.30 324.92h2M30.30 307.10h2M30.30 289.28h2M30.30 271.46h2M30.30 253.64h2M30.30 235.82h2M30.30 218.00h2" stroke="#262626" stroke-width="0.8" fill="none"/>
<text transform="translate(28.90 406.30) scale(0.87 1)" text-anchor="middle" class="tk">0</text>
<text transform="translate(60.60 406.30) scale(0.87 1)" text-anchor="middle" class="tk">0.005</text>
<text transform="translate(92.29 406.30) scale(0.87 1)" text-anchor="middle" class="tk">0.01</text>
<text transform="translate(123.99 406.30) scale(0.87 1)" text-anchor="middle" class="tk">0.015</text>
<text transform="translate(155.69 406.30) scale(0.87 1)" text-anchor="middle" class="tk">0.02</text>
<text transform="translate(187.38 406.30) scale(0.87 1)" text-anchor="middle" class="tk">0.025</text>
<text transform="translate(219.08 406.30) scale(0.87 1)" text-anchor="middle" class="tk">0.03</text>
<text transform="translate(26.20 398.80) scale(0.87 1)" text-anchor="end" class="tk">-1</text>
<text transform="translate(26.20 380.98) scale(0.87 1)" text-anchor="end" class="tk">-0.8</text>
<text transform="translate(26.20 363.16) scale(0.87 1)" text-anchor="end" class="tk">-0.6</text>
<text transform="translate(26.20 345.34) scale(0.87 1)" text-anchor="end" class="tk">-0.4</text>
<text transform="translate(26.20 327.52) scale(0.87 1)" text-anchor="end" class="tk">-0.2</text>
<text transform="translate(26.20 309.70) scale(0.87 1)" text-anchor="end" class="tk">0</text>
<text transform="translate(26.20 291.88) scale(0.87 1)" text-anchor="end" class="tk">0.2</text>
<text transform="translate(26.20 274.06) scale(0.87 1)" text-anchor="end" class="tk">0.4</text>
<text transform="translate(26.20 256.24) scale(0.87 1)" text-anchor="end" class="tk">0.6</text>
<text transform="translate(26.20 238.42) scale(0.87 1)" text-anchor="end" class="tk">0.8</text>
<text transform="translate(26.20 220.60) scale(0.87 1)" text-anchor="end" class="tk">1</text>
<text x="131.60" y="417.00" text-anchor="middle" class="lb">time delay</text>
<text transform="translate(10.50 312.40) rotate(-90)" text-anchor="middle" class="yl"><tspan font-style="italic">&#961;</tspan>(&#964;) (autocorrelation)</text>
<defs><linearGradient id="g158" x1="0" y1="1" x2="0" y2="0"><stop offset="0" stop-color="#00ffff"/><stop offset="1" stop-color="#ff00ff"/></linearGradient></defs>
<rect x="245.60" y="217.40" width="11.00" height="178.80" fill="url(#g158)" stroke="#262626" stroke-width="0.8"/>
<text transform="translate(258.90 389.39) scale(0.87 1)" class="tk">0.2</text>
<text transform="translate(258.90 370.57) scale(0.87 1)" class="tk">0.4</text>
<text transform="translate(258.90 351.75) scale(0.87 1)" class="tk">0.6</text>
<text transform="translate(258.90 332.93) scale(0.87 1)" class="tk">0.8</text>
<text transform="translate(258.90 314.11) scale(0.87 1)" class="tk">1</text>
<text transform="translate(258.90 295.28) scale(0.87 1)" class="tk">1.2</text>
<text transform="translate(258.90 276.46) scale(0.87 1)" class="tk">1.4</text>
<text transform="translate(258.90 257.64) scale(0.87 1)" class="tk">1.6</text>
<text transform="translate(258.90 238.82) scale(0.87 1)" class="tk">1.8</text>
<text transform="translate(258.90 220.00) scale(0.87 1)" class="tk">2</text>
<path d="M256.60 386.79h-2M256.60 367.97h-2M256.60 349.15h-2M256.60 330.33h-2M256.60 311.51h-2M256.60 292.68h-2M256.60 273.86h-2M256.60 255.04h-2M256.60 236.22h-2M256.60 217.40h-2" stroke="#262626" stroke-width="0.8" fill="none"/>
<path d="M307.80 396.20V218.00M339.50 396.20V218.00M371.19 396.20V218.00M402.89 396.20V218.00M434.59 396.20V218.00M466.28 396.20V218.00M497.98 396.20V218.00M307.80 396.20H517.00M307.80 378.38H517.00M307.80 360.56H517.00M307.80 342.74H517.00M307.80 324.92H517.00M307.80 307.10H517.00M307.80 289.28H517.00M307.80 271.46H517.00M307.80 253.64H517.00M307.80 235.82H517.00M307.80 218.00H517.00" stroke="#e4e4e4" stroke-width="0.8" fill="none"/>
<polyline points="307.80,218.00 314.14,298.22 320.48,298.43 326.82,310.59 333.16,303.98 339.50,313.40 345.84,317.72 352.18,295.87 358.52,305.74 364.85,297.93 371.19,325.98 377.53,317.04 383.87,314.30 390.21,326.58 396.55,311.19 402.89,293.57 409.23,294.84 415.57,274.54 421.91,300.02 428.25,304.56 434.59,312.20 440.93,335.08 447.27,327.29 453.61,298.82 459.95,301.56 466.28,281.26 472.62,301.04 478.96,314.31 485.30,306.45 491.64,318.92 497.98,302.01 504.32,322.99 510.66,295.98 517.00,289.89" stroke="#ff00ff"/>
<polyline points="307.80,218.00 314.14,283.41 320.48,301.11 326.82,296.18 333.16,303.34 339.50,333.41 345.84,305.42 352.18,300.34 358.52,301.87 364.85,306.76 371.19,306.30 377.53,309.61 383.87,318.09 390.21,305.79 396.55,300.51 402.89,305.70 409.23,302.96 415.57,283.71 421.91,304.08 428.25,300.54 434.59,305.51 440.93,303.33 447.27,305.56 453.61,288.83 459.95,302.33 466.28,288.16 472.62,306.72 478.96,310.68 485.30,316.54 491.64,332.48 497.98,347.43 504.32,301.65 510.66,296.30 517.00,294.93" stroke="#f609ff"/>
<polyline points="307.80,218.00 314.14,303.33 320.48,285.19 326.82,304.41 333.16,332.24 339.50,296.24 345.84,295.41 352.18,313.63 358.52,326.95 364.85,289.62 371.19,313.54 377.53,315.94 383.87,327.81 390.21,308.06 396.55,295.93 402.89,290.72 409.23,296.18 415.57,289.54 421.91,289.82 428.25,319.29 434.59,297.93 440.93,318.57 447.27,308.92 453.61,303.03 459.95,287.61 466.28,283.64 472.62,276.07 478.96,317.16 485.30,328.52 491.64,322.37 497.98,327.69 504.32,303.24 510.66,308.69 517.00,294.68" stroke="#ed12ff"/>
<polyline points="307.80,218.00 314.14,288.99 320.48,291.54 326.82,315.29 333.16,310.64 339.50,314.02 345.84,303.15 352.18,322.50 358.52,285.40 364.85,316.64 371.19,319.73 377.53,307.12 383.87,327.71 390.21,303.87 396.55,310.65 402.89,310.23 409.23,292.46 415.57,296.03 421.91,279.47 428.25,284.98 434.59,303.76 440.93,320.16 447.27,311.27 453.61,293.30 459.95,305.44 466.28,303.01 472.62,290.32 478.96,306.06 485.30,322.23 491.64,327.89 497.98,342.61 504.32,300.36 510.66,301.18 517.00,311.01" stroke="#e51aff"/>
<polyline points="307.80,218.00 314.14,286.14 320.48,296.29 326.82,308.21 333.16,330.50 339.50,320.48 345.84,327.39 352.18,318.47 358.52,304.26 364.85,311.13 371.19,312.40 377.53,289.78 383.87,319.75 390.21,333.78 396.55,336.50 402.89,308.52 409.23,309.55 415.57,315.27 421.91,288.68 428.25,308.35 434.59,308.34 440.93,284.41 447.27,310.73 453.61,304.29 459.95,293.72 466.28,297.80 472.62,309.00 478.96,317.84 485.30,309.50 491.64,330.19 497.98,338.48 504.32,327.91 510.66,311.70 517.00,296.11" stroke="#dc23ff"/>
<polyline points="307.80,218.00 314.14,293.36 320.48,294.36 326.82,315.59 333.16,309.97 339.50,314.67 345.84,314.90 352.18,313.90 358.52,303.44 364.85,294.26 371.19,289.69 377.53,305.93 383.87,336.24 390.21,327.85 396.55,310.65 402.89,297.77 409.23,290.13 415.57,279.97 421.91,291.06 428.25,308.01 434.59,331.75 440.93,319.56 447.27,329.88 453.61,305.15 459.95,291.55 466.28,306.70 472.62,299.55 478.96,318.17 485.30,300.81 491.64,322.34 497.98,343.81 504.32,309.14 510.66,294.78 517.00,296.73" stroke="#d32cff"/>
<polyline points="307.80,218.00 314.14,288.29 320.48,301.75 326.82,294.36 333.16,324.84 339.50,321.58 345.84,295.91 352.18,311.98 358.52,312.73 364.85,283.02 371.19,302.52 377.53,309.03 383.87,318.40 390.21,314.66 396.55,316.96 402.89,297.05 409.23,302.04 415.57,285.81 421.91,290.01 428.25,304.94 434.59,304.01 440.93,284.54 447.27,324.09 453.61,293.73 459.95,283.36 466.28,279.19 472.62,305.04 478.96,301.01 485.30,313.74 491.64,328.35 497.98,326.74 504.32,309.99 510.66,286.94 517.00,282.45" stroke="#ca35ff"/>
<polyline points="307.80,218.00 314.14,291.90 320.48,311.49 326.82,307.09 333.16,325.86 339.50,299.50 345.84,304.47 352.18,298.82 358.52,302.64 364.85,300.78 371.19,297.11 377.53,323.48 383.87,318.45 390.21,348.09 396.55,310.35 402.89,287.13 409.23,285.76 415.57,286.43 421.91,281.15 428.25,309.18 434.59,322.35 440.93,316.05 447.27,299.70 453.61,298.22 459.95,295.19 466.28,286.90 472.62,291.63 478.96,328.16 485.30,352.30 491.64,339.93 497.98,340.77 504.32,319.90 510.66,309.89 517.00,300.98" stroke="#c13eff"/>
<polyline points="307.80,218.00 314.14,275.22 320.48,289.77 326.82,312.36 333.16,336.60 339.50,313.23 345.84,307.73 352.18,297.50 358.52,276.34 364.85,288.00 371.19,317.48 377.53,327.98 383.87,314.09 390.21,325.62 396.55,304.30 402.89,297.14 409.23,299.22 415.57,282.44 421.91,274.56 428.25,296.19 434.59,324.37 440.93,321.31 447.27,318.32 453.61,300.77 459.95,281.35 466.28,267.95 472.62,293.15 478.96,319.81 485.30,322.28 491.64,330.08 497.98,330.34 504.32,313.73 510.66,296.22 517.00,303.08" stroke="#b946ff"/>
<polyline points="307.80,218.00 314.14,292.86 320.48,305.33 326.82,312.42 333.16,326.59 339.50,330.19 345.84,307.75 352.18,312.34 358.52,312.44 364.85,317.58 371.19,299.15 377.53,336.85 383.87,325.50 390.21,322.08 396.55,305.64 402.89,297.12 409.23,293.71 415.57,283.57 421.91,297.09 428.25,313.65 434.59,300.09 440.93,328.96 447.27,295.14 453.61,297.69 459.95,296.93 466.28,284.04 472.62,282.73 478.96,331.47 485.30,335.09 491.64,344.02 497.98,326.39 504.32,311.23 510.66,296.27 517.00,298.26" stroke="#b04fff"/>
<polyline points="307.80,218.00 314.14,278.04 320.48,304.43 326.82,331.52 333.16,320.09 339.50,333.50 345.84,311.91 352.18,280.66 358.52,287.34 364.85,294.67 371.19,306.41 377.53,311.47 383.87,322.11 390.21,344.61 396.55,312.73 402.89,276.34 409.23,278.62 415.57,291.01 421.91,296.85 428.25,321.28 434.59,322.22 440.93,303.34 447.27,315.42 453.61,311.91 459.95,297.16 466.28,288.60 472.62,296.14 478.96,321.24 485.30,334.61 491.64,327.92 497.98,313.34 504.32,322.09 510.66,301.57 517.00,276.84" stroke="#a758ff"/>
<polyline points="307.80,218.00 314.14,281.79 320.48,298.04 326.82,289.54 333.16,313.52 339.50,319.33 345.84,309.80 352.18,321.38 358.52,283.98 364.85,302.32 371.19,305.26 377.53,319.00 383.87,323.49 390.21,311.08 396.55,304.91 402.89,280.23 409.23,287.61 415.57,276.47 421.91,280.40 428.25,314.07 434.59,292.92 440.93,328.72 447.27,328.60 453.61,285.47 459.95,267.77 466.28,293.42 472.62,300.60 478.96,285.62 485.30,326.66 491.64,357.35 497.98,337.56 504.32,295.74 510.66,288.17 517.00,280.28" stroke="#9e61ff"/>
<polyline points="307.80,218.00 314.14,293.81 320.48,324.58 326.82,309.50 333.16,337.65 339.50,331.72 345.84,307.16 352.18,309.43 358.52,290.84 364.85,294.46 371.19,298.89 377.53,310.56 383.87,344.52 390.21,324.73 396.55,316.90 402.89,291.44 409.23,285.91 415.57,271.48 421.91,299.82 428.25,295.81 434.59,302.73 440.93,325.28 447.27,294.86 453.61,310.01 459.95,286.64 466.28,289.68 472.62,299.78 478.96,330.69 485.30,335.02 491.64,339.29 497.98,341.29 504.32,308.35 510.66,278.56 517.00,302.78" stroke="#956aff"/>
<polyline points="307.80,218.00 314.14,284.41 320.48,317.17 326.82,312.62 333.16,318.25 339.50,308.24 345.84,311.77 352.18,299.53 358.52,301.06 364.85,280.09 371.19,289.63 377.53,328.21 383.87,334.49 390.21,335.16 396.55,322.29 402.89,317.13 409.23,285.66 415.57,271.21 421.91,300.48 428.25,306.37 434.59,348.99 440.93,310.17 447.27,311.30 453.61,301.46 459.95,290.20 466.28,289.47 472.62,293.07 478.96,323.04 485.30,333.45 491.64,341.26 497.98,333.42 504.32,302.29 510.66,308.13 517.00,282.68" stroke="#8d72ff"/>
<polyline points="307.80,218.00 314.14,280.75 320.48,308.47 326.82,314.99 333.16,315.46 339.50,341.03 345.84,329.28 352.18,313.36 358.52,268.71 364.85,294.08 371.19,307.70 377.53,330.93 383.87,349.13 390.21,358.58 396.55,315.38 402.89,287.83 409.23,299.95 415.57,285.75 421.91,291.63 428.25,297.37 434.59,313.53 440.93,313.18 447.27,303.37 453.61,290.80 459.95,272.51 466.28,292.92 472.62,296.76 478.96,309.30 485.30,329.74 491.64,343.19 497.98,356.62 504.32,337.64 510.66,284.94 517.00,280.34" stroke="#847bff"/>
<polyline points="307.80,218.00 314.14,281.44 320.48,295.03 326.82,326.69 333.16,328.29 339.50,334.79 345.84,315.16 352.18,291.51 358.52,290.44 364.85,284.04 371.19,302.62 377.53,320.66 383.87,329.05 390.21,354.98 396.55,333.53 402.89,283.16 409.23,268.84 415.57,253.14 421.91,275.02 428.25,288.21 434.59,325.32 440.93,318.38 447.27,311.21 453.61,311.52 459.95,293.26 466.28,280.37 472.62,287.18 478.96,350.76 485.30,333.83 491.64,343.78 497.98,340.64 504.32,317.20 510.66,286.72 517.00,292.01" stroke="#7b84ff"/>
<polyline points="307.80,218.00 314.14,265.85 320.48,285.21 326.82,329.99 333.16,340.17 339.50,321.31 345.84,304.85 352.18,295.68 358.52,278.31 364.85,299.28 371.19,305.06 377.53,336.42 383.87,341.42 390.21,347.61 396.55,324.75 402.89,287.35 409.23,258.57 415.57,280.05 421.91,286.38 428.25,285.37 434.59,321.39 440.93,310.27 447.27,316.50 453.61,299.83 459.95,279.36 466.28,260.58 472.62,282.48 478.96,317.96 485.30,334.15 491.64,363.86 497.98,349.71 504.32,306.59 510.66,282.17 517.00,275.37" stroke="#728dff"/>
<polyline points="307.80,218.00 314.14,264.66 320.48,288.56 326.82,310.90 333.16,334.04 339.50,335.25 345.84,315.75 352.18,284.04 358.52,270.91 364.85,290.98 371.19,311.49 377.53,315.34 383.87,340.80 390.21,339.21 396.55,331.57 402.89,289.90 409.23,278.36 415.57,265.74 421.91,294.17 428.25,283.01 434.59,315.35 440.93,324.66 447.27,330.39 453.61,300.46 459.95,268.67 466.28,289.44 472.62,284.56 478.96,317.64 485.30,345.12 491.64,344.55 497.98,346.83 504.32,310.46 510.66,283.90 517.00,276.14" stroke="#6a95ff"/>
<polyline points="307.80,218.00 314.14,281.20 320.48,288.50 326.82,325.71 333.16,333.73 339.50,330.97 345.84,312.10 352.18,285.46 358.52,286.77 364.85,289.81 371.19,314.62 377.53,331.60 383.87,335.83 390.21,351.68 396.55,309.99 402.89,277.67 409.23,264.72 415.57,257.67 421.91,285.46 428.25,290.51 434.59,304.97 440.93,336.37 447.27,320.82 453.61,305.76 459.95,276.23 466.28,282.08 472.62,271.77 478.96,328.64 485.30,354.65 491.64,339.66 497.98,337.99 504.32,318.31 510.66,282.71 517.00,279.20" stroke="#619eff"/>
<polyline points="307.80,218.00 314.14,254.94 320.48,289.35 326.82,332.81 333.16,342.64 339.50,337.76 345.84,327.86 352.18,296.13 358.52,291.00 364.85,298.67 371.19,305.35 377.53,330.21 383.87,359.35 390.21,359.41 396.55,325.86 402.89,286.56 409.23,271.86 415.57,262.04 421.91,277.91 428.25,289.61 434.59,315.47 440.93,329.00 447.27,326.87 453.61,304.27 459.95,273.35 466.28,271.70 472.62,284.71 478.96,347.31 485.30,365.96 491.64,356.15 497.98,346.69 504.32,312.49 510.66,279.97 517.00,271.94" stroke="#58a7ff"/>
<polyline points="307.80,218.00 314.14,264.38 320.48,287.34 326.82,306.38 333.16,344.44 339.50,345.43 345.84,323.71 352.18,301.90 358.52,283.65 364.85,288.84 371.19,317.28 377.53,327.42 383.87,377.08 390.21,364.90 396.55,306.93 402.89,273.60 409.23,261.67 415.57,254.80 421.91,258.32 428.25,287.67 434.59,320.12 440.93,343.21 447.27,322.98 453.61,304.23 459.95,280.19 466.28,272.88 472.62,283.05 478.96,330.62 485.30,339.55 491.64,372.88 497.98,353.78 504.32,310.96 510.66,284.11 517.00,262.15" stroke="#4fb0ff"/>
<polyline points="307.80,218.00 314.14,247.63 320.48,288.58 326.82,324.37 333.16,347.81 339.50,337.88 345.84,317.37 352.18,292.05 358.52,284.57 364.85,272.77 371.19,307.38 377.53,332.69 383.87,359.88 390.21,374.59 396.55,319.81 402.89,282.08 409.23,264.80 415.57,254.40 421.91,276.25 428.25,284.81 434.59,326.54 440.93,341.95 447.27,329.52 453.61,296.88 459.95,267.28 466.28,268.76 472.62,291.55 478.96,322.14 485.30,356.44 491.64,358.25 497.98,356.05 504.32,331.41 510.66,287.29 517.00,265.62" stroke="#46b9ff"/>
<polyline points="307.80,218.00 314.14,260.66 320.48,293.17 326.82,316.38 333.16,345.77 339.50,336.85 345.84,317.76 352.18,296.96 358.52,279.10 364.85,275.83 371.19,306.46 377.53,340.58 383.87,374.18 390.21,360.87 396.55,326.71 402.89,280.10 409.23,261.82 415.57,249.59 421.91,265.08 428.25,283.63 434.59,316.90 440.93,329.31 447.27,319.60 453.61,299.46 459.95,270.49 466.28,258.66 472.62,281.15 478.96,327.68 485.30,344.67 491.64,375.60 497.98,369.94 504.32,320.44 510.66,281.06 517.00,261.86" stroke="#3ec1ff"/>
<polyline points="307.80,218.00 314.14,258.71 320.48,288.37 326.82,321.48 333.16,354.28 339.50,343.97 345.84,308.02 352.18,278.62 358.52,268.05 364.85,276.36 371.19,301.03 377.53,337.51 383.87,368.30 390.21,369.62 396.55,325.69 402.89,276.50 409.23,241.97 415.57,248.81 421.91,257.56 428.25,281.44 434.59,324.65 440.93,333.29 447.27,337.32 453.61,296.25 459.95,263.22 466.28,271.60 472.62,283.62 478.96,326.99 485.30,356.06 491.64,380.55 497.98,364.27 504.32,332.06 510.66,275.65 517.00,261.23" stroke="#35caff"/>
<polyline points="307.80,218.00 314.14,254.38 320.48,287.04 326.82,320.93 333.16,363.63 339.50,347.51 345.84,319.76 352.18,283.79 358.52,271.10 364.85,277.42 371.19,307.36 377.53,330.38 383.87,361.91 390.21,370.78 396.55,330.90 402.89,262.39 409.23,258.06 415.57,246.78 421.91,261.64 428.25,285.25 434.59,320.12 440.93,339.72 447.27,330.66 453.61,293.92 459.95,264.35 466.28,247.71 472.62,275.75 478.96,340.01 485.30,362.11 491.64,372.34 497.98,367.93 504.32,339.73 510.66,280.42 517.00,261.07" stroke="#2cd3ff"/>
<polyline points="307.80,218.00 314.14,246.61 320.48,287.73 326.82,331.04 333.16,356.76 339.50,344.42 345.84,316.49 352.18,280.24 358.52,268.57 364.85,279.77 371.19,300.43 377.53,336.46 383.87,378.48 390.21,367.06 396.55,327.78 402.89,278.67 409.23,252.34 415.57,242.63 421.91,253.92 428.25,289.03 434.59,326.45 440.93,344.23 447.27,329.19 453.61,298.68 459.95,262.47 466.28,249.52 472.62,271.86 478.96,338.76 485.30,364.16 491.64,382.14 497.98,371.11 504.32,333.89 510.66,282.06 517.00,251.92" stroke="#23dcff"/>
<polyline points="307.80,218.00 314.14,245.18 320.48,289.12 326.82,324.16 333.16,356.69 339.50,352.91 345.84,314.90 352.18,283.67 358.52,269.13 364.85,271.01 371.19,307.06 377.53,343.28 383.87,379.59 390.21,377.26 396.55,328.74 402.89,268.19 409.23,249.07 415.57,236.75 421.91,252.49 428.25,288.34 434.59,325.81 440.93,345.74 447.27,331.48 453.61,297.55 459.95,261.20 466.28,249.61 472.62,273.76 478.96,336.79 485.30,360.92 491.64,385.35 497.98,369.43 504.32,331.75 510.66,273.65 517.00,251.81" stroke="#1ae5ff"/>
<polyline points="307.80,218.00 314.14,242.37 320.48,288.92 326.82,329.32 333.16,359.69 339.50,352.03 345.84,318.23 352.18,285.73 358.52,267.15 364.85,273.98 371.19,305.55 377.53,343.68 383.87,382.34 390.21,379.25 396.55,329.04 402.89,271.10 409.23,248.01 415.57,234.11 421.91,257.10 428.25,285.01 434.59,327.21 440.93,347.17 447.27,329.80 453.61,292.40 459.95,260.20 466.28,250.50 472.62,274.03 478.96,338.41 485.30,365.44 491.64,388.74 497.98,374.83 504.32,334.66 510.66,274.76 517.00,255.18" stroke="#12edff"/>
<polyline points="307.80,218.00 314.14,240.16 320.48,289.06 326.82,331.56 333.16,361.25 339.50,352.91 345.84,319.03 352.18,282.33 358.52,265.69 364.85,270.63 371.19,308.05 377.53,344.17 383.87,382.97 390.21,381.27 396.55,330.59 402.89,268.50 409.23,243.30 415.57,233.93 421.91,252.98 428.25,284.76 434.59,328.09 440.93,348.37 447.27,329.14 453.61,293.67 459.95,255.84 466.28,246.16 472.62,269.28 478.96,338.29 485.30,367.14 491.64,391.70 497.98,374.95 504.32,335.05 510.66,272.43 517.00,252.77" stroke="#09f6ff"/>
<polyline points="307.80,218.00 314.14,238.86 320.48,287.81 326.82,330.74 333.16,362.20 339.50,352.85 345.84,320.49 352.18,282.70 358.52,262.83 364.85,269.59 371.19,307.01 377.53,345.36 383.87,384.89 390.21,380.54 396.55,330.81 402.89,268.04 409.23,242.86 415.57,231.76 421.91,252.72 428.25,283.49 434.59,328.46 440.93,348.30 447.27,330.89 453.61,294.09 459.95,256.78 466.28,245.20 472.62,269.78 478.96,339.76 485.30,368.17 491.64,393.44 497.98,377.95 504.32,335.27 510.66,271.89 517.00,251.73" stroke="#00ffff"/>
<path d="M307.80 218.00V396.20H517.00" stroke="#707070" stroke-width="0.9" fill="none"/>
<path d="M307.80 396.20v-2M339.50 396.20v-2M371.19 396.20v-2M402.89 396.20v-2M434.59 396.20v-2M466.28 396.20v-2M497.98 396.20v-2M307.80 396.20h2M307.80 378.38h2M307.80 360.56h2M307.80 342.74h2M307.80 324.92h2M307.80 307.10h2M307.80 289.28h2M307.80 271.46h2M307.80 253.64h2M307.80 235.82h2M307.80 218.00h2" stroke="#262626" stroke-width="0.8" fill="none"/>
<text transform="translate(306.40 406.30) scale(0.87 1)" text-anchor="middle" class="tk">0</text>
<text transform="translate(338.10 406.30) scale(0.87 1)" text-anchor="middle" class="tk">0.005</text>
<text transform="translate(369.79 406.30) scale(0.87 1)" text-anchor="middle" class="tk">0.01</text>
<text transform="translate(401.49 406.30) scale(0.87 1)" text-anchor="middle" class="tk">0.015</text>
<text transform="translate(433.19 406.30) scale(0.87 1)" text-anchor="middle" class="tk">0.02</text>
<text transform="translate(464.88 406.30) scale(0.87 1)" text-anchor="middle" class="tk">0.025</text>
<text transform="translate(496.58 406.30) scale(0.87 1)" text-anchor="middle" class="tk">0.03</text>
<text transform="translate(303.70 398.80) scale(0.87 1)" text-anchor="end" class="tk">-1</text>
<text transform="translate(303.70 380.98) scale(0.87 1)" text-anchor="end" class="tk">-0.8</text>
<text transform="translate(303.70 363.16) scale(0.87 1)" text-anchor="end" class="tk">-0.6</text>
<text transform="translate(303.70 345.34) scale(0.87 1)" text-anchor="end" class="tk">-0.4</text>
<text transform="translate(303.70 327.52) scale(0.87 1)" text-anchor="end" class="tk">-0.2</text>
<text transform="translate(303.70 309.70) scale(0.87 1)" text-anchor="end" class="tk">0</text>
<text transform="translate(303.70 291.88) scale(0.87 1)" text-anchor="end" class="tk">0.2</text>
<text transform="translate(303.70 274.06) scale(0.87 1)" text-anchor="end" class="tk">0.4</text>
<text transform="translate(303.70 256.24) scale(0.87 1)" text-anchor="end" class="tk">0.6</text>
<text transform="translate(303.70 238.42) scale(0.87 1)" text-anchor="end" class="tk">0.8</text>
<text transform="translate(303.70 220.60) scale(0.87 1)" text-anchor="end" class="tk">1</text>
<text x="409.10" y="417.00" text-anchor="middle" class="lb">time delay</text>
<text transform="translate(288.00 312.40) rotate(-90)" text-anchor="middle" class="yl"><tspan font-style="italic">&#961;</tspan>(&#964;) (autocorrelation)</text>
<defs><linearGradient id="g224" x1="0" y1="1" x2="0" y2="0"><stop offset="0" stop-color="#00ffff"/><stop offset="1" stop-color="#ff00ff"/></linearGradient></defs>
<rect x="523.00" y="217.40" width="11.10" height="178.80" fill="url(#g224)" stroke="#262626" stroke-width="0.8"/>
<text transform="translate(536.40 389.39) scale(0.87 1)" class="tk">0.2</text>
<text transform="translate(536.40 370.57) scale(0.87 1)" class="tk">0.4</text>
<text transform="translate(536.40 351.75) scale(0.87 1)" class="tk">0.6</text>
<text transform="translate(536.40 332.93) scale(0.87 1)" class="tk">0.8</text>
<text transform="translate(536.40 314.11) scale(0.87 1)" class="tk">1</text>
<text transform="translate(536.40 295.28) scale(0.87 1)" class="tk">1.2</text>
<text transform="translate(536.40 276.46) scale(0.87 1)" class="tk">1.4</text>
<text transform="translate(536.40 257.64) scale(0.87 1)" class="tk">1.6</text>
<text transform="translate(536.40 238.82) scale(0.87 1)" class="tk">1.8</text>
<text transform="translate(536.40 220.00) scale(0.87 1)" class="tk">2</text>
<path d="M534.10 386.79h-2M534.10 367.97h-2M534.10 349.15h-2M534.10 330.33h-2M534.10 311.51h-2M534.10 292.68h-2M534.10 273.86h-2M534.10 255.04h-2M534.10 236.22h-2M534.10 217.40h-2" stroke="#262626" stroke-width="0.8" fill="none"/>
</svg>
</body></html>
